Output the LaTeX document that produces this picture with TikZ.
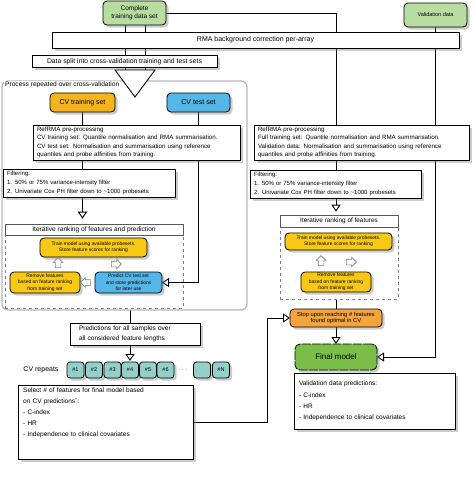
\documentclass[tikz,border=0pt]{standalone}
\usepackage{fontspec}
\setmainfont{Liberation Sans}
\usetikzlibrary{arrows.meta,shapes.arrows,shadows}
\pgfdeclarelayer{bg}
\pgfsetlayers{bg,main}
\definecolor{lgreen}{RGB}{183,221,161}
\definecolor{orng}{RGB}{245,180,25}
\definecolor{ylw}{RGB}{247,200,20}
\definecolor{blu}{RGB}{85,182,232}
\definecolor{orng2}{RGB}{246,165,60}
\definecolor{fgreen}{RGB}{122,190,72}
\definecolor{teal2}{RGB}{147,208,204}
\newcommand{\fz}[2]{\fontsize{#1}{#2}\selectfont}
\begin{document}
\begin{tikzpicture}[x=1pt,y=-1pt,
  box/.style={draw=black, line width=0.8pt, fill=white, drop shadow={shadow xshift=2.5pt,shadow yshift=-2.5pt,opacity=0.4}, inner sep=0pt, outer sep=0pt},
  rbox/.style={box, rounded corners=4pt},
  conn/.style={line width=0.9pt},
  harr/.style={-{Triangle[open,length=7pt,width=9pt]}},
  blk/.style={single arrow, draw=gray, fill=white, line width=0.6pt, minimum height=10pt, inner sep=2.5pt, single arrow head extend=2pt},
  rep/.style={rbox, rounded corners=3pt, fill=teal2, minimum width=17, minimum height=16, font=\fz{5.5}{6.5}},
  ibox/.style={draw=gray, dashed, line width=0.6pt},
  ihead/.style={draw=gray!70!black, fill=white, line width=0.6pt, inner sep=0pt}
]
\useasboundingbox (0,0) rectangle (474,479);

% process box
\node[draw=gray!55, line width=1.3pt, rounded corners=6pt, minimum width=245, minimum height=229] (proc) at (124.5,195.5) {};
\node[fill=white, inner sep=1pt, anchor=west, font=\fz{6.6}{7.5}] (plab) at (4,85) {Process repeated over cross-validation};

% top
\node[rbox, fill=lgreen, minimum width=63, minimum height=24, align=center, font=\fz{6.5}{7.8}] (cts) at (134.5,13) {Complete\\training data set};
\node[rbox, fill=lgreen, minimum width=63, minimum height=24, font=\fz{5.5}{6.5}] (val) at (435.5,15) {Validation data};
\node[box, minimum width=407, minimum height=16, font=\fz{7}{8}] (rma) at (255.5,40) {RMA background correction per-array};
\node[box, minimum width=185, minimum height=12, font=\fz{6.8}{7.5}] (split) at (124.5,61.5) {Data split into cross-validation training and test sets};

% big hollow arrow
\coordinate (tl) at (125,70);
\coordinate (tr) at (145,70);
\draw[line width=0.9pt, fill=white] (115,70) -- (155,70) -- (135,97) -- cycle;

\node[rbox, fill=orng, minimum width=65, minimum height=19, font=\fz{7}{8}] (cvtr) at (82.5,102.5) {CV training set};
\node[rbox, fill=blu, minimum width=63, minimum height=19, font=\fz{7}{8}] (cvte) at (198.5,102.5) {CV test set};

\node[box, minimum width=207, minimum height=35, text width=199, align=left, font=\fz{6.2}{8}] (ref1) at (136.5,142.5) {RefRMA pre-processing\\CV training set: Quantile normalisation and RMA summarisation.\\[1.5pt]CV test set: Normalisation and summarisation using reference\\quantiles and probe affinities from training.};
\node[box, minimum width=215, minimum height=35, text width=207, align=left, font=\fz{6.2}{8}] (ref2) at (361.5,142.5) {RefRMA pre-processing\\Full training set: Quantile normalisation and RMA summarisation.\\[1.5pt]Validation data: Normalisation and summarisation using reference\\quantiles and probe affinities from training.};

\node[box, minimum width=172, minimum height=28, text width=164, align=left, font=\fz{6}{9}] (filt1) at (89,183) {Filtering:\\1. 50\% or 75\% variance-intensity filter\\2. Univariate Cox PH filter down to \textasciitilde1000 probesets};
\node[box, minimum width=171, minimum height=28, text width=163, align=left, font=\fz{6}{9}] (filt2) at (335.5,184) {Filtering:\\1. 50\% or 75\% variance-intensity filter\\2. Univariate Cox PH filter down to \textasciitilde1000 probesets};

% left iterative
\node[ibox, minimum width=178, minimum height=84] (it1) at (94,266) {};
\node[ihead, minimum width=178, minimum height=11, font=\fz{6.6}{7.5}] (it1h) at (94,229.5) {Iterative ranking of features and prediction};
\node[rbox, fill=ylw, minimum width=107, minimum height=19, align=center, font=\fz{4.9}{6}] (tr1) at (93.5,247.5) {Train model using available probesets.\\Store feature scores for ranking};
\node[rbox, fill=ylw, minimum width=70, minimum height=21, align=center, font=\fz{4.9}{6.5}] (rm1) at (45,282.5) {Remove features\\based on feature ranking\\from training set};
\node[rbox, fill=blu, minimum width=67, minimum height=21, align=center, font=\fz{4.9}{6.5}] (pr1) at (128.5,282.5) {Predict CV test set\\and store predictions\\for later use};
\node[blk, shape border rotate=-90] (a1) at (115,264) {};
\node[blk, shape border rotate=180] (a2) at (87,282.5) {};
\node[blk, shape border rotate=55] (a3) at (58,264) {};

% right iterative
\node[ibox, minimum width=118, minimum height=84] (it2) at (339,257) {};
\node[ihead, minimum width=118, minimum height=12, font=\fz{6.4}{7.5}] (it2h) at (339,221) {Iterative ranking of features};
\node[rbox, fill=ylw, minimum width=107, minimum height=17, align=center, font=\fz{4.9}{6}] (tr2) at (338.5,241.5) {Train model using available probesets.\\Store feature scores for ranking};
\node[blk, shape border rotate=90] (a4) at (321,262) {};
\node[blk, shape border rotate=-90] (a5) at (350,262) {};
\node[rbox, fill=ylw, minimum width=70, minimum height=20, align=center, font=\fz{4.9}{6.3}] (rm2) at (336,282) {Remove features\\based on feature ranking\\from training set};

\node[rbox, fill=orng2, minimum width=92, minimum height=18, align=center, font=\fz{5.8}{6.8}] (stop) at (336,318) {Stop upon reaching \# features\\found optimal in CV};
\node[rbox, rounded corners=5pt, fill=fgreen, dash pattern=on 9pt off 1.2pt, minimum width=82, minimum height=26, font=\fz{8}{9}] (final) at (336,357) {Final model};
\node[box, minimum width=161, minimum height=56, text width=151, align=left, font=\fz{6.5}{11.3}] (vpred) at (374.5,401) {Validation data predictions:\\- C-index\\- HR\\- Independence to clinical covariates};

% bottom left
\node[box, minimum width=130, minimum height=22, text width=112, align=left, font=\fz{6.5}{10}] (preds) at (135,334) {Predictions for all samples over\\all considered feature lengths};
\node[font=\fz{7}{8}] (cvr) at (41,370) {CV repeats};
\node[rep] (r1) at (75.5,370) {\#1};
\node[rep] (r2) at (94,370) {\#2};
\node[rep] (r3) at (112.5,370) {\#3};
\node[rep] (r4) at (130,370) {\#4};
\node[rep] (r5) at (148,370) {\#5};
\node[rep] (r6) at (165.5,370) {\#6};
\node[font=\fz{7}{8}] (dots) at (183,370) {$\cdots$};
\node[rep] (rb) at (202,370) {};
\node[rep] (rN) at (221,370) {\#N};

\node[box, minimum width=175, minimum height=74] (sel) at (105.5,422) {};
\node[anchor=north west, inner sep=0pt, text width=165, align=left, font=\fz{6.5}{10.8}] (seltxt) at (23,388) {Select \# of features for final model based\\on CV predictions\textsuperscript{*}:\\- C-index\\- HR\\- Independence to clinical covariates};

\coordinate (c1) at (336,13);
\coordinate (c2) at (267,422);
\coordinate (c3) at (130,310);

\begin{pgfonlayer}{bg}
\draw[conn] (tl |- cts.south) -- (tl);
\draw[conn] (tr |- cts.south) -- (tr);
\draw[conn] (cts.east) -- (c1) -- (c1 |- ref2.north);
\draw[conn,harr] (val.south) |- (final.east);
\draw[conn] (cvtr.south) -- (cvtr.south |- filt1.north);
\draw[conn,harr,shorten >=5pt] (cvtr.south |- filt1.south) -- (cvtr.south |- it1.north);
\draw[conn,harr] (cvte.south) |- (pr1.east);
\draw[conn] (c1 |- ref2.south) -- (c1 |- filt2.north);
\draw[conn,harr,shorten >=3pt] (c1 |- filt2.south) -- (c1 |- it2.north);
\draw[conn] (stop.north |- it2.south) -- (stop.north);
\draw[conn,harr] (stop.south) -- (final.north);
\draw[conn,harr] (sel.east) -- (c2) |- (stop.west);
\draw[conn] (c3) -- (c3 |- preds.north);
\draw[conn,harr,shorten >=1pt] (c3 |- preds.south) -- (c3 |- r4.north);
\end{pgfonlayer}
\end{tikzpicture}
\end{document}
